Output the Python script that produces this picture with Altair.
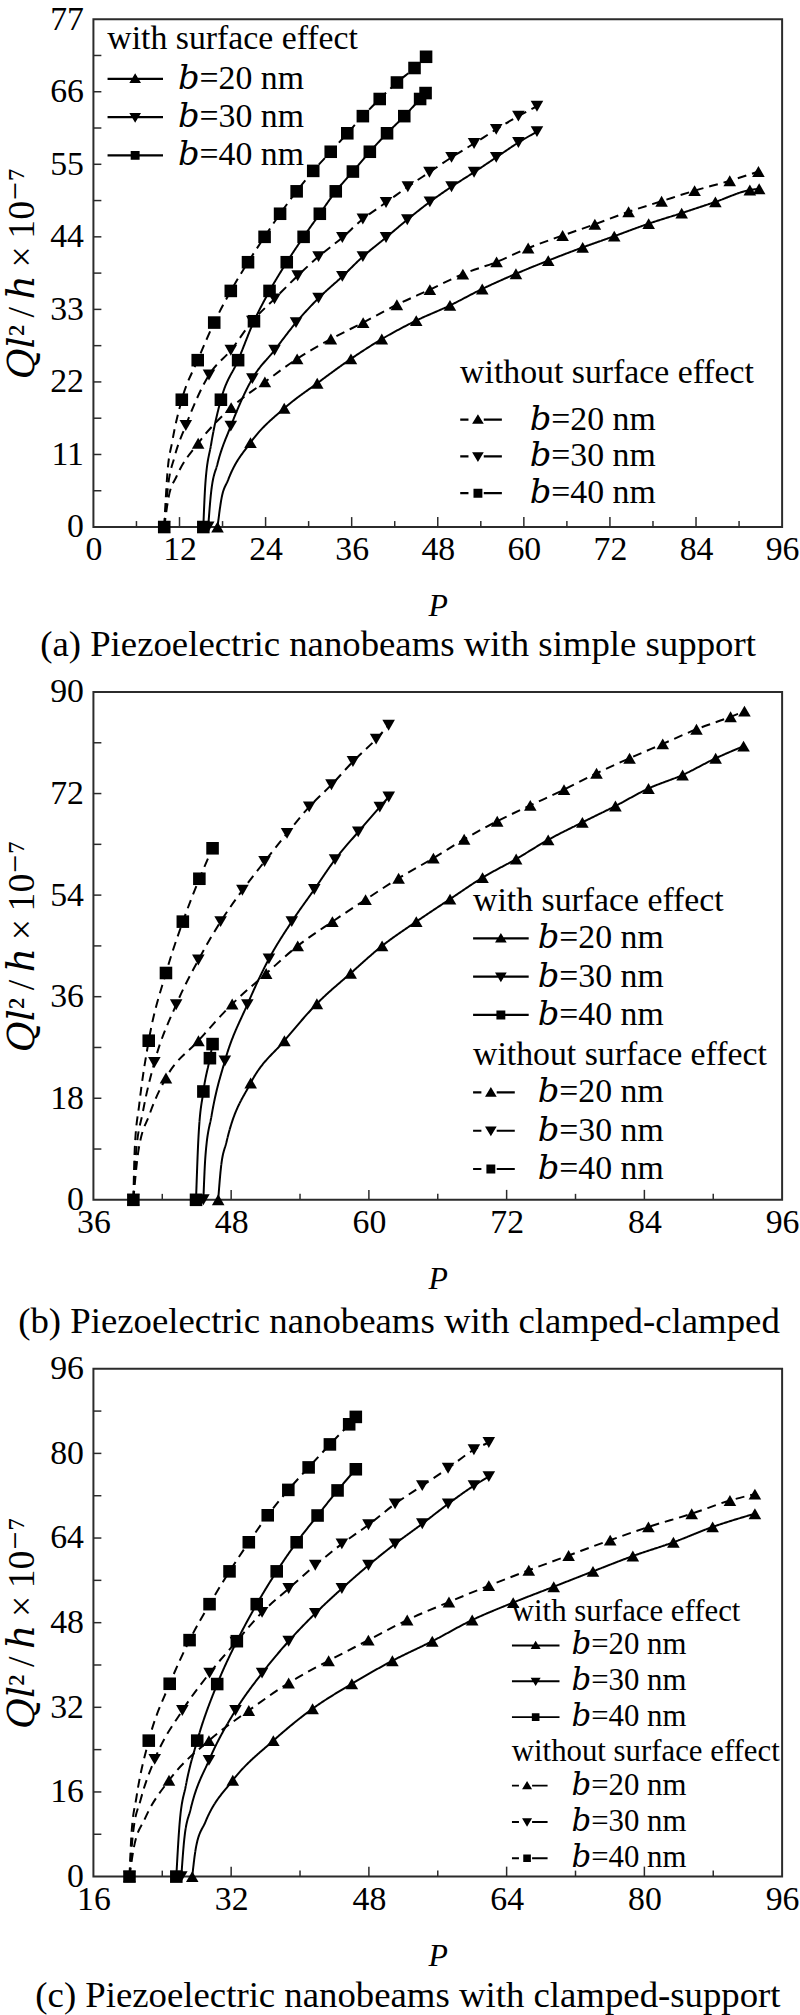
import altair as alt
import pandas as pd

FONT = "Liberation Serif, DejaVu Serif"
FRAME = "#2b2b2b"
B_VALUES = ["20", "30", "40"]
LEG_LABELS = ["\U0001D44F=20 nm", "\U0001D44F=30 nm", "\U0001D44F=40 nm"]
Y_TITLE = "\U0001D444\U0001D459\u00b2\u2009/\u2009\u210e\u2009\u00d7\u200910\u207b\u2077"

# ---------------- Panel (a): simple support ----------------
A_X_TICKS = [0, 12, 24, 36, 48, 60, 72, 84, 96]
A_X_MINOR = [6, 18, 30, 42, 54, 66, 78, 90]
A_Y_TICKS = [0, 11, 22, 33, 44, 55, 66, 77]
A_Y_MINOR = [5.5, 16.5, 27.5, 38.5, 49.5, 60.5, 71.5]
# with surface effect (solid)
A_W20_P = [17.3, 21.9, 26.6, 31.2, 35.9, 40.2, 45.0, 49.7, 54.2, 58.9, 63.4, 68.2, 72.6, 77.4, 82.0, 86.7, 91.5, 92.8]
A_W20_Q = [0, 12.8, 18.0, 21.8, 25.5, 28.5, 31.3, 33.6, 36.1, 38.4, 40.4, 42.4, 44.1, 46.0, 47.6, 49.3, 51.1, 51.3]
A_W30_P = [16.0, 19.15, 22.15, 25.24, 28.24, 31.38, 34.7, 37.56, 40.79, 43.75, 46.9, 49.92, 53.06, 56.15, 59.24, 61.83]
A_W30_Q = [0, 15.3, 22.5, 26.8, 31.0, 34.7, 38.0, 41.0, 43.9, 46.6, 49.3, 51.6, 53.8, 56.05, 58.3, 59.95]
A_W40_P = [15.32, 17.77, 20.17, 22.38, 24.55, 26.95, 29.3, 31.56, 33.78, 36.17, 38.53, 40.93, 43.33, 45.54, 46.3]
A_W40_Q = [0, 19.3, 25.3, 31.2, 35.8, 40.15, 44.0, 47.5, 50.9, 53.9, 56.9, 59.7, 62.3, 64.9, 65.8]
# without surface effect (dashed)
A_O20_P = [9.87, 14.6, 19.2, 23.9, 28.4, 33.1, 37.6, 42.3, 46.9, 51.5, 56.2, 60.6, 65.4, 69.9, 74.6, 79.2, 83.8, 88.7, 92.7]
A_O20_Q = [0, 12.7, 18.1, 22.0, 25.5, 28.5, 31.0, 33.7, 36.0, 38.35, 40.2, 42.3, 44.2, 45.9, 47.8, 49.4, 51.0, 52.5, 53.9]
A_O30_P = [9.87, 12.88, 16.11, 19.15, 22.15, 25.24, 28.47, 31.38, 34.7, 37.56, 40.79, 43.83, 46.84, 49.92, 53.06, 56.15, 59.24, 61.83]
A_O30_Q = [0, 15.4, 23.06, 26.8, 31.2, 34.6, 38.1, 41.0, 43.9, 46.7, 49.2, 51.6, 53.8, 56.05, 58.15, 60.3, 62.3, 63.8]
A_O40_P = [9.87, 12.32, 14.54, 16.84, 19.15, 21.55, 23.86, 26.02, 28.33, 30.64, 33.08, 35.39, 37.56, 39.91, 42.31, 44.76, 46.37]
A_O40_Q = [0, 19.3, 25.3, 31.0, 35.8, 40.15, 44.0, 47.5, 50.9, 54.0, 56.9, 59.7, 62.3, 64.9, 67.4, 69.6, 71.3]
# points on the curves near their foot (no marker)
A_W20_FOOT = ([17.8, 18.8], [4.0, 7.2])
A_W30_FOOT = ([16.4, 17.3], [5.2, 9.6])
A_W40_FOOT = ([15.6, 16.4], [6.5, 12.5])
A_O20_FOOT = ([10.5, 11.6], [4.6, 7.7])
A_O30_FOOT = ([10.4, 11.3], [6.2, 10.6])
A_O40_FOOT = ([10.3, 11.0], [8.0, 13.0])

# ---------------- Panel (b): clamped-clamped ----------------
B_X_TICKS = [36, 48, 60, 72, 84, 96]
B_X_MINOR = [42, 54, 66, 78, 90]
B_Y_TICKS = [0, 18, 36, 54, 72, 90]
B_Y_MINOR = [9, 27, 45, 63, 81]
B_W20_P = [46.87, 49.7, 52.64, 55.47, 58.41, 61.15, 64.13, 67.07, 69.9, 72.83, 75.62, 78.6, 81.48, 84.36, 87.33, 90.21, 92.64]
B_W20_Q = [0, 20.7, 28.2, 34.76, 40.15, 45.0, 49.3, 53.3, 57.1, 60.4, 63.8, 66.9, 69.8, 72.9, 75.3, 78.25, 80.4]
B_W30_P = [45.58, 47.45, 49.41, 51.29, 53.28, 55.24, 57.05, 59.07, 60.95, 61.73]
B_W30_Q = [0, 24.6, 34.6, 42.7, 49.3, 55.0, 60.3, 65.2, 69.6, 71.4]
B_W40_P = [44.94, 45.58, 46.15, 46.38]
B_W40_Q = [0, 19.2, 25.1, 27.6]
B_O20_P = [39.48, 42.32, 45.15, 48.09, 51.05, 53.8, 56.82, 59.71, 62.59, 65.62, 68.3, 71.18, 74.06, 77.0, 79.83, 82.71, 85.6, 88.54, 91.51, 92.72]
B_O20_Q = [0, 21.6, 28.2, 34.7, 40.1, 45.0, 49.3, 53.2, 57.0, 60.55, 63.9, 67.1, 69.9, 72.7, 75.6, 78.25, 80.8, 83.4, 85.6, 86.6]
B_O30_P = [39.48, 41.31, 43.21, 45.14, 47.08, 48.98, 50.91, 52.87, 54.8, 56.74, 58.61, 60.63, 61.72]
B_O30_Q = [0, 24.33, 34.58, 42.5, 49.3, 54.87, 59.96, 64.95, 69.64, 73.56, 77.67, 81.65, 84.1]
B_O40_P = [39.48, 40.82, 42.32, 43.79, 45.23, 46.38]
B_O40_Q = [0, 28.2, 40.2, 49.3, 56.9, 62.3]
B_W20_FOOT = ([47.1, 47.6], [5.5, 10.3])
B_W30_FOOT = ([45.75, 46.3], [7.5, 15.0])
B_W40_FOOT = ([45.15], [11.0])
B_O20_FOOT = ([39.9, 40.9], [8.4, 15.2])
B_O30_FOOT = ([39.7, 40.3], [8.0, 15.5])
B_O40_FOOT = ([39.6, 40.0], [9.0, 17.0])

# ---------------- Panel (c): clamped-support ----------------
C_X_TICKS = [16, 32, 48, 64, 80, 96]
C_X_MINOR = [24, 40, 56, 72, 88]
C_Y_TICKS = [0, 16, 32, 48, 64, 80, 96]
C_Y_MINOR = [8, 24, 40, 56, 72, 88]
C_W20_P = [27.48, 32.19, 36.9, 41.46, 46.02, 50.73, 55.36, 60.0, 64.76, 69.47, 74.03, 78.66, 83.37, 87.93, 92.84]
C_W20_Q = [0, 18.2, 25.7, 31.74, 36.45, 40.8, 44.5, 48.5, 51.8, 54.8, 57.7, 60.6, 63.2, 66.1, 68.6]
C_W30_P = [26.21, 29.42, 32.5, 35.59, 38.68, 41.77, 44.86, 47.95, 51.04, 54.2, 57.2, 60.2, 61.93]
C_W30_Q = [0, 21.96, 31.4, 38.46, 44.5, 49.75, 54.45, 58.85, 62.9, 66.7, 70.45, 73.9, 75.6]
C_W40_P = [25.63, 28.06, 30.38, 32.66, 34.97, 37.29, 39.61, 42.04, 44.36, 46.48]
C_W40_Q = [0, 25.7, 36.4, 44.5, 51.5, 57.7, 63.2, 68.26, 73.0, 77.0]
C_O20_P = [20.19, 24.78, 29.42, 34.05, 38.68, 43.32, 47.94, 52.45, 57.3, 61.93, 66.57, 71.2, 76.03, 80.47, 85.5, 89.94, 92.84]
C_O20_Q = [0, 18.2, 25.7, 31.4, 36.6, 40.8, 44.7, 48.5, 51.9, 55.0, 57.9, 60.7, 63.6, 66.1, 68.6, 71.1, 72.3]
C_O30_P = [20.19, 23.12, 26.33, 29.49, 32.54, 35.59, 38.68, 41.77, 44.86, 47.95, 51.04, 54.2, 57.2, 60.2, 61.93]
C_O30_Q = [0, 22.15, 31.4, 38.46, 44.3, 49.94, 54.45, 58.85, 62.9, 66.5, 70.45, 73.9, 77.2, 80.7, 82.06]
C_O40_P = [20.19, 22.43, 24.86, 27.17, 29.49, 31.81, 34.05, 36.25, 38.64, 41.0, 43.47, 45.71, 46.48]
C_O40_Q = [0, 25.7, 36.45, 44.7, 51.5, 57.7, 63.2, 68.3, 73.1, 77.35, 81.7, 85.5, 86.9]
C_W20_FOOT = ([27.9, 29.0], [5.4, 10.3])
C_W30_FOOT = ([26.55, 27.3], [7.0, 12.8])
C_W40_FOOT = ([26.0, 26.75], [9.8, 17.3])
C_O20_FOOT = ([20.7, 22.0], [5.5, 11.0])
C_O30_FOOT = ([20.6, 21.5], [8.2, 14.6])
C_O40_FOOT = ([20.42, 21.0], [8.0, 15.0])

CAPTIONS = [
    "(a) Piezoelectric nanobeams with simple support",
    "(b) Piezoelectric nanobeams with clamped-clamped",
    "(c) Piezoelectric nanobeams with clamped-support",
]

# legend symbols drawn as filled shapes (clockwise sub-paths):
# a thin bar for the line plus the marker; dashed = short bar, marker, bar
SOLID_PATHS = [
    "M-1,-0.04H1V0.04H-1ZM0,-0.2L0.21,0.15L-0.21,0.15Z",
    "M-1,-0.04H1V0.04H-1ZM-0.21,-0.15L0.21,-0.15L0,0.2Z",
    "M-1,-0.04H1V0.04H-1ZM-0.16,-0.16H0.16V0.16H-0.16Z",
]
DASH_PATHS = [
    "M-1,-0.04H-0.7V0.04H-1ZM-0.15,-0.04H0.5V0.04H-0.15ZM-0.36,-0.2L-0.15,0.15L-0.57,0.15Z",
    "M-1,-0.04H-0.7V0.04H-1ZM-0.15,-0.04H0.5V0.04H-0.15ZM-0.57,-0.15L-0.15,-0.15L-0.36,0.2Z",
    "M-1,-0.04H-0.7V0.04H-1ZM-0.15,-0.04H0.5V0.04H-0.15ZM-0.52,-0.16H-0.2V0.16H-0.52Z",
]

W, H = 693, 511


def build(series):
    lines, marks = [], []
    for (eff, b), (P, Q, foot) in series.items():
        sid = eff + b
        for p, q in zip(P, Q):
            marks.append(dict(P=p, Q=q, eff=eff, b=b, sid=sid))
            lines.append(dict(P=p, Q=q, eff=eff, b=b, sid=sid))
        for p, q in zip(foot[0], foot[1]):
            lines.append(dict(P=p, Q=q, eff=eff, b=b, sid=sid))
    ldf = pd.DataFrame(lines).sort_values(["sid", "P"])
    return ldf, pd.DataFrame(marks)


def legend_layer(title, paths, lx, ly, fs, unit, tpad, rpad, loff):
    df = pd.DataFrame({"lab": LEG_LABELS})
    size = (2 * unit) ** 2
    return alt.Chart(df).mark_point(
        filled=True, fill="black", opacity=0, size=size, strokeWidth=0
    ).encode(
        shape=alt.Shape(
            "lab:N",
            scale=alt.Scale(domain=LEG_LABELS, range=paths),
            legend=alt.Legend(
                title=title, orient="none", legendX=lx, legendY=ly, direction="vertical",
                symbolSize=size, symbolStrokeWidth=0, symbolOpacity=1,
                symbolFillColor="black",
                labelFontSize=fs, titleFontSize=fs, labelFont=FONT, titleFont=FONT,
                titleFontWeight="normal", titleColor="black", labelColor="black",
                titlePadding=tpad, rowPadding=rpad, labelOffset=loff, clipHeight=fs - 4,
                titleLimit=600, labelLimit=400, padding=0,
            ),
        )
    )


def panel(series, xdom, ydom, xt, xm, yt, ym, caption, dx, cap_off, leg_w, leg_o):
    ldf, mdf = build(series)
    xs = alt.Scale(domain=xdom, nice=False, zero=False)
    ys = alt.Scale(domain=ydom, nice=False, zero=False)
    xax = alt.Axis(values=xt, title="P", titleFontStyle="italic", titleFontSize=32,
                   labelPadding=6, titlePadding=24, format="d")
    yax = alt.Axis(values=yt, title=Y_TITLE, titleFontSize=38, labelPadding=10,
                   titlePadding=8, format="d")
    lines = alt.Chart(ldf).mark_line(color="black", strokeWidth=2, interpolate="monotone").encode(
        x=alt.X("P:Q", scale=xs, axis=xax),
        y=alt.Y("Q:Q", scale=ys, axis=yax),
        detail="sid:N",
        strokeDash=alt.StrokeDash("eff:N", scale=alt.Scale(domain=["w", "o"], range=[[1, 0], [9, 6]]), legend=None),
    )
    marks = alt.Chart(mdf).mark_point(filled=True, color="black", opacity=1).encode(
        x=alt.X("P:Q", scale=xs, axis=xax),
        y=alt.Y("Q:Q", scale=ys, axis=yax),
        shape=alt.Shape("b:N", scale=alt.Scale(domain=B_VALUES, range=["triangle-up", "triangle-down", "square"]), legend=None),
        size=alt.Size("b:O", scale=alt.Scale(domain=B_VALUES, range=[160, 160, 105]), legend=None),
    )

    def xticks(vals, ln):
        return alt.Chart(pd.DataFrame({"P": vals})).mark_rule(color=FRAME, strokeWidth=1.5).encode(
            x=alt.X("P:Q", scale=xs, axis=xax), y=alt.value(H), y2=alt.value(H - ln))

    def yticks(vals, ln):
        return alt.Chart(pd.DataFrame({"Q": vals})).mark_rule(color=FRAME, strokeWidth=1.5).encode(
            y=alt.Y("Q:Q", scale=ys, axis=yax), x=alt.value(0), x2=alt.value(ln))

    layers = [
        lines, marks,
        xticks(xt[1:-1], 10), xticks(xm, 6), yticks(yt[1:-1], 8), yticks(ym, 8),
        legend_layer("with surface effect", SOLID_PATHS, *leg_w),
        legend_layer("without surface effect", DASH_PATHS, *leg_o),
    ]
    return alt.layer(*layers).resolve_scale(shape="independent", size="independent").properties(
        width=W, height=H,
        title=alt.TitleParams(caption, orient="bottom", anchor="middle", fontSize=37, font=FONT,
                              fontWeight="normal", color="black", offset=cap_off, dx=dx),
    )


SER_A = {
    ("w", "20"): (A_W20_P, A_W20_Q, A_W20_FOOT), ("w", "30"): (A_W30_P, A_W30_Q, A_W30_FOOT),
    ("w", "40"): (A_W40_P, A_W40_Q, A_W40_FOOT), ("o", "20"): (A_O20_P, A_O20_Q, A_O20_FOOT),
    ("o", "30"): (A_O30_P, A_O30_Q, A_O30_FOOT), ("o", "40"): (A_O40_P, A_O40_Q, A_O40_FOOT),
}
SER_B = {
    ("w", "20"): (B_W20_P, B_W20_Q, B_W20_FOOT), ("w", "30"): (B_W30_P, B_W30_Q, B_W30_FOOT),
    ("w", "40"): (B_W40_P, B_W40_Q, B_W40_FOOT), ("o", "20"): (B_O20_P, B_O20_Q, B_O20_FOOT),
    ("o", "30"): (B_O30_P, B_O30_Q, B_O30_FOOT), ("o", "40"): (B_O40_P, B_O40_Q, B_O40_FOOT),
}
SER_C = {
    ("w", "20"): (C_W20_P, C_W20_Q, C_W20_FOOT), ("w", "30"): (C_W30_P, C_W30_Q, C_W30_FOOT),
    ("w", "40"): (C_W40_P, C_W40_Q, C_W40_FOOT), ("o", "20"): (C_O20_P, C_O20_Q, C_O20_FOOT),
    ("o", "30"): (C_O30_P, C_O30_Q, C_O30_FOOT), ("o", "40"): (C_O40_P, C_O40_Q, C_O40_FOOT),
}

pa = panel(SER_A, [0, 96], [0, 77], A_X_TICKS, A_X_MINOR, A_Y_TICKS, A_Y_MINOR, CAPTIONS[0], -40, 6,
           (14, 3, 34, 28, 8, 4.5, 15), (369, 339, 34, 28, 15, 3, 14))
pb = panel(SER_B, [36, 96], [0, 90], B_X_TICKS, B_X_MINOR, B_Y_TICKS, B_Y_MINOR, CAPTIONS[1], -39, 10,
           (382, 193, 34, 28, 6, 4.5, 9), (382, 348, 34, 28, 6, 4.5, 9))
pc = panel(SER_C, [16, 96], [0, 96], C_X_TICKS, C_X_MINOR, C_Y_TICKS, C_Y_MINOR, CAPTIONS[2], -30, 7,
           (421, 230, 31, 24, 4, 4, 12), (421, 371, 31, 24, 4, 4.5, 12))

chart = alt.vconcat(pa, pb, pc, spacing=10).properties(
    padding={"left": 3, "top": -5, "right": 0, "bottom": 0}
).configure(font=FONT).configure_view(stroke=FRAME, strokeWidth=2).configure_axis(
    labelFont=FONT, titleFont=FONT, labelFontSize=34, labelColor="black", titleColor="black",
    titleFontWeight="normal", grid=False, ticks=False, tickSize=0, domain=False,
    labelFlush=False, labelOverlap=False,
).configure_title(font=FONT)

chart.save("out.html", embed_options={"renderer": "svg", "actions": False})
